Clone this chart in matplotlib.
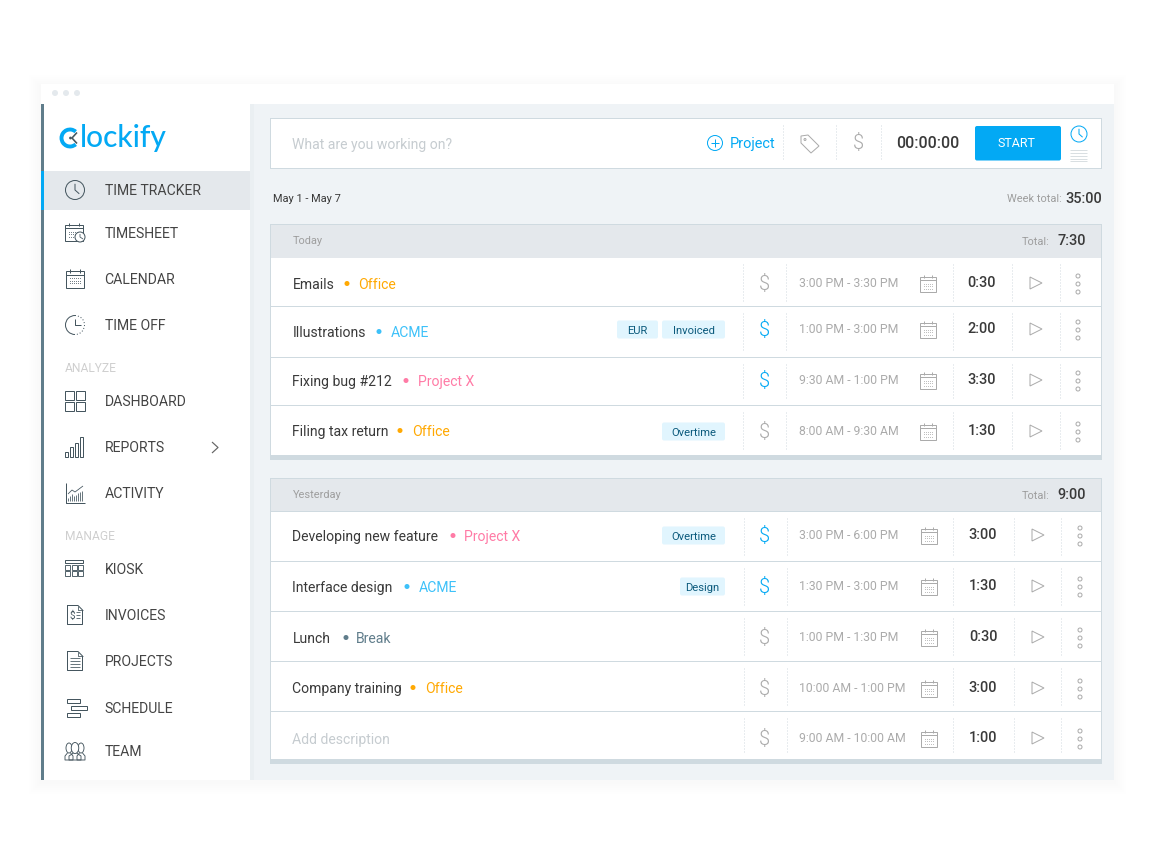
import matplotlib
matplotlib.use("Agg")
import matplotlib.pyplot as plt
from matplotlib.patches import Rectangle, Circle, Ellipse, FancyBboxPatch, Arc, Polygon

plt.rcParams['font.family'] = ['Roboto', 'DejaVu Sans']

# sidebar
nav_labels = ["TIME TRACKER", "TIMESHEET", "CALENDAR", "TIME OFF", "DASHBOARD", "REPORTS",
              "ACTIVITY", "KIOSK", "INVOICES", "PROJECTS", "SCHEDULE", "TEAM"]
section_labels = ["ANALYZE", "MANAGE"]

# today
today_desc = ["Emails", "Illustrations", "Fixing bug #212", "Filing tax return"]
today_proj = ["Office", "ACME", "Project X", "Office"]
today_tags = [[], ["EUR", "Invoiced"], [], ["Overtime"]]
today_bill = [False, True, True, False]
today_range = ["3:00 PM - 3:30 PM", "1:00 PM - 3:00 PM", "9:30 AM - 1:00 PM", "8:00 AM - 9:30 AM"]
today_dur = ["0:30", "2:00", "3:30", "1:30"]

# yesterday
yest_desc = ["Developing new feature", "Interface design", "Lunch", "Company training", "Add description"]
yest_proj = ["Project X", "ACME", "Break", "Office", ""]
yest_tags = [["Overtime"], ["Design"], [], [], []]
yest_bill = [True, True, False, False, False]
yest_range = ["3:00 PM - 6:00 PM", "1:30 PM - 3:00 PM", "1:00 PM - 1:30 PM", "10:00 AM - 1:00 PM", "9:00 AM - 10:00 AM"]
yest_dur = ["3:00", "1:30", "0:30", "3:00", "1:00"]

BLUE = "#03A9F4"
INK = "#3A3A3A"
GREY = "#9E9E9E"
LINE = "#CFDAE0"
ICON = "#45565F"
LIGHT = "#ABABAB"
proj_colors = {"Office": "#FFA903", "ACME": "#3DC1F9", "Project X": "#FF7BA6", "Break": "#607D8B"}
tag_widths = {"EUR": 41, "Invoiced": 63, "Overtime": 63, "Design": 45}

nav_y = [190, 233, 279, 325, 401, 447, 493, 569, 615, 661, 708, 751]
section_y = [368, 536]

fig = plt.figure(figsize=(11.5, 8.67), dpi=100)
ax = fig.add_axes([0, 0, 1, 1])
ax.set_xlim(0, 1150)
ax.set_ylim(867, 0)
ax.axis("off")


def rect(x0, y0, x1, y1, fc, ec="none", lw=0, z=1, alpha=None):
    ax.add_patch(Rectangle((x0, y0), x1 - x0, y1 - y0, fc=fc, ec=ec, lw=lw, zorder=z, alpha=alpha))


def rrect(x0, y0, x1, y1, fc, r=2, z=3):
    ax.add_patch(FancyBboxPatch((x0 + r, y0 + r), x1 - x0 - 2 * r, y1 - y0 - 2 * r,
                                boxstyle=f"round,pad={r},rounding_size={r}", fc=fc, ec="none", zorder=z))


def line(xs, ys, c=ICON, lw=1.0, z=5, ls="-"):
    ax.plot(xs, ys, color=c, lw=lw * 0.72, zorder=z, ls=ls, solid_capstyle="butt")


def txt(x, y, s, px=14, c=INK, ha="left", weight=400):
    # y is the middle of the capital letters
    return ax.text(x, y + 0.355 * px, s, fontsize=px * 0.72, color=c, ha=ha, va="baseline",
                   weight=weight, zorder=6)


def dollar(x, y, c):
    ax.text(x, y, "$", fontsize=14.5, color=c, ha="center", va="center", weight=300, zorder=6)


def vdots(x, y0, y1):
    line([x, x], [y0, y1], c="#D3DBE0", lw=1.0, ls=(0, (1, 2)))


def circ(x, y, r, ec=ICON, lw=1.0, fc="none", z=5, ls="-"):
    ax.add_patch(Circle((x, y), r, fc=fc, ec=ec, lw=lw * 0.72, zorder=z, ls=ls))


def box(x0, y0, x1, y1, ec=ICON, lw=1.0, fc="none"):
    ax.add_patch(Rectangle((x0, y0), x1 - x0, y1 - y0, fc=fc, ec=ec, lw=lw * 0.72, zorder=5))


def clock_icon(x, y, r=9.5, c=ICON):
    circ(x, y, r, ec=c)
    line([x, x, x + r * 0.45], [y - r * 0.65, y, y + r * 0.4], c=c)


def calendar_icon(x, y, w=18, h=17, c=ICON):
    x0, x1 = x - w / 2, x + w / 2
    y0, y1 = y - h / 2 + 1, y + h / 2
    box(x0, y0, x1, y1, ec=c)
    line([x0, x1], [y0 + 3.5, y0 + 3.5], c=c)
    line([x0 + 4, x0 + 4], [y0 - 2, y0 + 1.5], c=c)
    line([x1 - 4, x1 - 4], [y0 - 2, y0 + 1.5], c=c)
    # little grid of days
    for gy in (y0 + 7, y0 + 9.5, y0 + 12):
        for gx in range(int(x0) + 4, int(x1) - 3, 2):
            rect(gx, gy, gx + 1, gy + 1, c, z=5, alpha=0.75)


def doc_lines(x0, x1, ys, c=ICON):
    for yy in ys:
        line([x0, x1], [yy, yy], c=c, lw=0.8)


def doc_icon(x, y):
    line([x - 7.5, x + 3, x + 7.5, x + 7.5, x - 7.5, x - 7.5],
         [y - 9.5, y - 9.5, y - 5, y + 9.5, y + 9.5, y - 9.5])
    line([x + 3, x + 3, x + 7.5], [y - 9.5, y - 5, y - 5], lw=0.8)


def person(x, y, head_w, head_h, half):
    ax.add_patch(Ellipse((x, y - 3), head_w, head_h, fc="white", ec=ICON, lw=0.65, zorder=5))
    line([x - 1.5, x - half, x - half, x + half, x + half, x + 1.5],
         [y + 2, y + 5, y + 9, y + 9, y + 5, y + 2], lw=0.9, z=4.5)


def play_icon(x, y):
    ax.add_patch(Polygon([(x - 6, y - 6), (x + 6, y), (x - 6, y + 6)], closed=True, fc="none",
                         ec=LIGHT, lw=0.72, zorder=5))


def more_icon(x, y):
    for dy in (-8, 0, 8):
        circ(x, y + dy, 2, ec=LIGHT)


# window with soft shadow
for pad in range(12, 0, -2):
    rect(41 - pad, 84 - pad + 3, 1114 + pad, 780 + pad + 2, "#2C4A5A", z=0.5, alpha=0.005)
rect(41, 84, 1114, 780, "#EFF3F6", z=1)
rect(41, 84, 1114, 104, "white", z=2)
for dot_x in (55, 66, 77):
    circ(dot_x, 93, 3, ec="none", fc="#E4E9ED", lw=0)

# sidebar
rect(41, 104, 250, 780, "white", z=2)
rect(250, 104, 254, 780, "#E9EEF1", z=1.5, alpha=0.7)
rect(41, 104, 44, 780, "#607D8B", z=3)
rect(44, 171, 250, 210, "#E4E8EC", z=3)
rect(41, 171, 44, 210, BLUE, z=4)

# logo
ax.add_patch(Arc((70, 138), 17, 17, theta1=48, theta2=312, color=BLUE, lw=2.8, zorder=6))
line([77, 72, 77], [132.5, 138, 143.5], c=ICON, lw=1.6, z=6)
circ(70.5, 138, 1.4, ec="none", fc=ICON, lw=0, z=7)
ax.text(80, 147, "lockify", fontsize=21.5, color=BLUE, family="Lato", weight=500, zorder=6)

for label, ny in zip(nav_labels, nav_y):
    # round first letters sit one pixel in otherwise
    nx = 104.3 if label[0] in "CS" else 105
    txt(nx, ny, label, px=14, c="#444444")
for label, sy in zip(section_labels, section_y):
    txt(65, sy, label, px=12, c="#CFCFCF")

# nav icons
clock_icon(75, nav_y[0])
y = nav_y[1]
calendar_icon(74, y - 1, w=18, h=17)
circ(80, y + 4, 5, fc="white")
line([80, 80, 83], [y + 1, y + 4, y + 6], lw=0.8)
calendar_icon(75, nav_y[2], w=18, h=18)
y = nav_y[3]
ax.add_patch(Arc((75, y), 19, 19, theta1=90, theta2=270, color=ICON, lw=0.72, zorder=5))
ax.add_patch(Arc((75, y), 19, 19, theta1=-90, theta2=90, color=ICON, lw=0.72, zorder=5, ls=(0, (1, 2))))
line([75, 75, 81], [y - 6, y, y], c=ICON)
y = nav_y[4]
for bx, by in ((65, y - 10), (76, y - 10), (65, y + 1), (76, y + 1)):
    box(bx, by, bx + 9, by + 9)
y = nav_y[5]
for bx, bh in ((65, 5), (70, 10), (75, 14), (80, 20)):
    box(bx, y + 10 - bh, bx + 3, y + 10)
y = nav_y[6]
line([65.5, 65.5, 84.5], [y - 10, y + 10, y + 10])
line([68, 72, 75, 79, 83], [y + 1, y - 3, y - 1, y - 4, y - 7], lw=0.8)
for bx, bh in zip(range(68, 84, 2), (3, 5, 7, 5, 6, 8, 9, 10)):
    line([bx, bx], [y + 8, y + 8 - bh], lw=0.8)
y = nav_y[7]
box(65, y - 9, 83, y - 6)
for by in (y - 4, y + 2):
    for bx in (65, 71.5, 78):
        box(bx, by, bx + 5, by + 5, lw=0.9)
y = nav_y[8]
doc_icon(75, y)
txt(72, y, "$", px=10, c=ICON, ha="center")
doc_lines(76, 80, [y - 3, y, y + 3])
y = nav_y[9]
doc_icon(75, y)
doc_lines(70, 80, [y - 3, y, y + 3, y + 6])
y = nav_y[10]
box(67, y - 9, 80, y - 5)
box(71, y - 2, 87, y + 2)
box(67, y + 5, 80, y + 9)
y = nav_y[11]
person(69, y, 6, 10, 4)
person(81, y, 6, 10, 4)
person(75, y, 7.5, 11, 6)
line([212, 218, 212], [442, 447.5, 453], c="#666666", lw=1.2)

# timer bar
rect(270, 118, 1102, 169, LINE, z=2)
rect(271, 119, 1101, 168, "white", z=2.1)
txt(292.5, 144, "What are you working on?", px=14, c="#C6CCD0")
circ(715, 143, 7.5, ec=BLUE)
line([711, 719], [143, 143], c=BLUE)
line([715, 715], [139, 147], c=BLUE)
txt(730, 143, "Project", px=14.5, c=BLUE)
for dx in (783, 836, 881):
    vdots(dx, 125, 161)
ax.add_patch(Polygon([(801, 136), (808, 135), (819, 146), (811, 153), (801, 143)], closed=True,
                     fc="none", ec=LIGHT, lw=0.72, zorder=5))
circ(805, 139.5, 1, ec=LIGHT)
dollar(858, 143.5, LIGHT)
txt(927.5, 142, "00:00:00", px=16, c=INK, ha="center", weight=500)
rrect(975, 126, 1061, 160.5, BLUE)
txt(1016, 143, "START", px=12.5, c="white", ha="center")
clock_icon(1079, 134, r=8, c=BLUE)
for ly in (150, 153, 156, 159, 161):
    line([1070, 1087], [ly, ly], c="#D0D7DB", lw=0.8)

txt(273, 198, "May 1 - May 7", px=11, c=INK)
txt(1062, 198, "Week total:", px=11, c=GREY, ha="right")
txt(1102, 198, "35:00", px=14.5, c=INK, ha="right", weight=500)


def draw_group(top, head_bottom, row_edges, title, total, desc, proj, tags, bill, ranges, durs,
               text_y, time_y, dot_x, proj_x, cal_x, dur_x, play_x, more_x, div_right):
    end = row_edges[-1]
    rect(270, top, 1102, end + 4, LINE, z=2)
    rect(271, top + 1, 1101, head_bottom, "#E4E8EC", z=2.1)
    txt(292.5, top + 16, title, px=11, c=GREY)
    txt(1049, top + 17, "Total:", px=11, c=GREY, ha="right")
    txt(1086, top + 16, total, px=14.5, c=INK, ha="right", weight=500)
    for i, name in enumerate(desc):
        y0, y1 = row_edges[i], row_edges[i + 1]
        rect(271, y0, 1101, y1 - 1, "white", z=2.2)
        ty = text_y[i]
        ey = time_y[i]
        has_proj = proj[i] != ""
        txt(292.5, ty, name, px=14, c=INK if has_proj else "#C6CCD0")
        if has_proj:
            color = proj_colors[proj[i]]
            circ(dot_x[i], ty - 0.5, 2.5, ec="none", fc=color, lw=0)
            txt(proj_x[i], ty, proj[i], px=14, c=color)
        # tags sit right aligned
        tx = 725
        for tag in reversed(tags[i]):
            w = tag_widths[tag]
            rrect(tx - w, ey - 8.5, tx, ey + 9.5, "#E1F5FE", r=2)
            txt(tx - w / 2, ey + 0.5, tag, px=11.3, c="#0B5A7C", ha="center")
            tx -= w + 4
        for dx in (div_right[0], div_right[1], 953, div_right[2], div_right[3]):
            vdots(dx, y0 + 6, y1 - 6)
        dollar(764, ey + 1.5, BLUE if bill[i] else LIGHT)
        txt(799, ey, ranges[i], px=12.3, c=LIGHT)
        calendar_icon(cal_x, ey + 0.5, w=16, h=16, c=LIGHT)
        txt(dur_x, ey - 1, durs[i], px=14.5, c=INK, ha="center", weight=500)
        play_icon(play_x, ey)
        more_icon(more_x, ey + 1)


draw_group(224, 258, [258, 307, 358, 406, 456], "Today", "7:30",
           today_desc, today_proj, today_tags, today_bill, today_range, today_dur,
           [284, 332, 381, 431], [283, 329, 380, 431],
           [347, 379, 406, 400], [358, 391, 418, 412],
           928, 982, 1036, 1078, [743, 786, 1012, 1060])
draw_group(478, 511, [512, 562, 612, 662, 712, 760], "Yesterday", "9:00",
           yest_desc, yest_proj, yest_tags, yest_bill, yest_range, yest_dur,
           [536, 587, 638, 688, 739], [535, 586, 637, 688, 738],
           [453, 407, 346, 413, 0], [464, 419, 356, 425, 0],
           929, 983, 1038, 1080, [744, 787, 1014, 1061])

fig.savefig("out.png", dpi=100)
